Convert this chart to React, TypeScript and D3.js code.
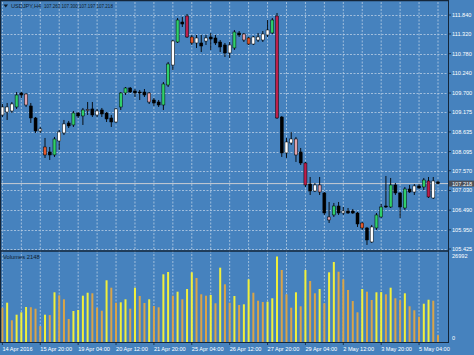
import React from 'react';
import * as d3 from 'd3';

// USDJPY H4 bars, 14 Apr 2016 .. 5 May 2016
const opens = [
  109.099, 109.181, 109.209, 109.318, 109.702, 109.674, 109.346, 109.017, 108.661, 108.222,
  108.085, 108.003, 108.387, 108.606, 108.880, 108.825, 109.154, 109.072, 109.250, 109.264,
  109.099, 109.236, 109.154, 109.017, 108.907, 109.318, 109.702, 109.839, 109.757, 109.729,
  109.729, 109.702, 109.510, 109.455, 109.373, 109.921, 110.469, 111.100, 111.648, 111.813,
  111.237, 111.073, 111.073, 111.127, 111.237, 111.210, 111.100, 111.018, 110.799, 110.936,
  111.347, 111.319, 111.210, 111.045, 111.155, 111.155, 111.292, 111.347, 111.813, 109.044,
  108.058, 108.332, 108.441, 108.085, 107.783, 107.207, 107.015, 107.180, 106.961, 106.303,
  106.358, 106.604, 106.412, 106.467, 106.467, 106.412, 106.138, 106.001, 105.618, 106.001,
  106.303, 106.604, 106.577, 107.180, 106.961, 106.549, 107.070, 106.988, 107.153, 107.125,
  107.290, 106.824, 107.263,
];
const highs = [
  109.400, 109.428, 109.455, 109.729, 109.729, 109.702, 109.428, 109.044, 108.770, 108.469,
  108.222, 108.496, 108.688, 108.962, 108.935, 109.209, 109.181, 109.291, 109.455, 109.455,
  109.264, 109.291, 109.181, 109.099, 109.291, 109.729, 109.866, 109.866, 109.811, 109.784,
  109.811, 109.729, 109.565, 109.510, 110.004, 110.552, 111.155, 111.758, 111.785, 111.867,
  111.292, 111.292, 111.292, 111.292, 111.347, 111.292, 111.155, 111.073, 111.100, 111.429,
  111.401, 111.347, 111.237, 111.264, 111.347, 111.401, 111.703, 111.758, 111.895, 109.072,
  108.469, 108.633, 108.496, 108.195, 107.811, 107.399, 107.235, 107.399, 106.988, 106.714,
  106.687, 106.714, 106.577, 106.549, 106.522, 106.440, 106.166, 106.029, 106.084, 106.412,
  106.659, 107.427, 107.372, 107.235, 106.988, 107.125, 107.180, 107.207, 107.207, 107.372,
  107.399, 107.399, 107.300,
];
const lows = [
  109.044, 108.962, 109.154, 109.264, 109.565, 109.318, 108.880, 108.606, 108.606, 107.921,
  107.866, 107.948, 108.140, 108.551, 108.743, 108.770, 109.017, 108.825, 109.099, 109.044,
  109.044, 109.044, 108.907, 108.770, 108.880, 109.236, 109.647, 109.702, 109.592, 109.510,
  109.592, 109.400, 109.346, 109.318, 109.236, 109.866, 110.332, 111.073, 111.511, 111.210,
  111.018, 110.936, 110.826, 111.018, 110.881, 111.018, 110.826, 110.689, 110.662, 110.881,
  111.237, 111.100, 111.018, 111.018, 111.100, 111.100, 111.237, 111.319, 108.990, 107.948,
  107.921, 108.277, 107.811, 107.728, 107.125, 106.906, 106.988, 106.906, 106.358, 106.138,
  106.303, 106.358, 106.358, 106.385, 106.385, 106.029, 105.947, 105.536, 105.591, 105.947,
  106.275, 106.549, 106.549, 106.906, 106.275, 106.495, 106.961, 106.906, 107.070, 107.043,
  106.824, 106.796, 107.197,
];
const closes = [
  109.318, 109.318, 109.400, 109.647, 109.647, 109.373, 109.017, 108.661, 108.716, 108.003,
  108.003, 108.441, 108.633, 108.853, 108.798, 109.154, 109.072, 109.236, 109.222, 109.099,
  109.209, 109.127, 108.990, 108.907, 109.264, 109.702, 109.839, 109.729, 109.702, 109.702,
  109.647, 109.455, 109.428, 109.373, 109.949, 110.497, 111.127, 111.703, 111.593, 111.237,
  111.073, 111.210, 110.990, 111.210, 111.182, 111.073, 110.963, 110.799, 111.018, 111.374,
  111.292, 111.155, 111.045, 111.237, 111.237, 111.319, 111.429, 111.703, 109.017, 108.058,
  108.359, 108.441, 108.003, 107.783, 107.180, 107.015, 107.180, 106.988, 106.412, 106.221,
  106.604, 106.412, 106.467, 106.412, 106.412, 106.111, 106.001, 105.673, 106.029, 106.358,
  106.577, 106.577, 107.180, 106.961, 106.577, 107.070, 106.988, 107.153, 107.098, 107.317,
  106.851, 107.290, 107.218,
];
// body colour class of each bar, as the indicator painted it
const barKinds = (
  'wwwgkpkkwo' + 'kgwwkgkgpk' + 'wkkkwggkkk' + 'kpkkggwgkr' + 'owkwkkkkwg' +
  'kpowwwwgrk' + 'wwpkrkwpkp' + 'gkwkkkokwg' + 'gkgkkgkwkg' + 'rwk'
).split('');
const volumes = [
  10830, 12410, 6850, 8620, 9380, 11050, 10980, 10510, 5050, 8620,
  8500, 15690, 14740, 13480, 7260, 9790, 10100, 14620, 15560, 15380,
  10830, 9880, 19480, 17140, 12410, 12530, 13480, 10510, 17140, 14520,
  12310, 13480, 11370, 10960, 21370, 22100, 14620, 15880, 13480, 16730,
  22000, 20200, 15060, 14620, 14840, 12220, 23460, 18220, 12410, 14520,
  11680, 11900, 19790, 15560, 13040, 12630, 12720, 13800, 26992, 22730,
  15060, 10830, 15690, 11270, 22730, 19260, 15380, 16730, 12220, 22000,
  25260, 22190, 19790, 16420, 12940, 9380, 16730, 15880, 13260, 15690,
  15750, 15060, 17140, 13800, 13170, 15380, 11270, 10010, 7990, 12090,
  13350, 13040, 2148,
];
const priceTicks = [
  111.840, 111.320, 110.780, 110.240, 109.700, 109.175, 108.635,
  108.095, 107.570, 107.030, 106.490, 105.950, 105.425,
];
const timeLabels = [
  '14 Apr 2016', '15 Apr 20:00', '19 Apr 04:00', '20 Apr 12:00', '21 Apr 20:00', '25 Apr 04:00',
  '26 Apr 12:00', '27 Apr 20:00', '29 Apr 04:00', '2 May 12:00', '3 May 20:00', '5 May 04:00',
];
const labelEvery = 8; // one time label every 8 bars
const gridEvery = 4;
const volMax = 26992;
const lastPrice = 107.218;

const kindColor: Record<string, string> = {
  g: '#2fcf6a',
  w: '#ffffff',
  k: '#000000',
  r: '#bd1f4c',
  p: '#e3a3ab',
  o: '#e2582a',
};

const BG = '#4682be';
const FRAME = '#14263a';
const GRID = '#d6e2ef';
const FONT = '"Liberation Sans", Arial, sans-serif';

export default function App() {
  const W = 474, H = 355;
  const plotRight = 448;
  const mainBottom = 251;
  const volBottom = 342;

  const x = d3.scaleLinear().domain([0, closes.length - 1]).range([2.4, 438]);
  const y = d3.scaleLinear().domain([105.425, 111.84]).range([249, 15]);
  const yv = d3.scaleLinear().domain([0, volMax]).range([volBottom, 256.5]);

  const gridBars = d3.range(0, closes.length, gridEvery);

  return (
    <svg width={W} height={H} style={{ position: 'absolute', left: 0, top: 0, display: 'block' }}
      fontFamily={FONT}>
      <rect width={W} height={H} fill={BG} />

      {/* grid */}
      <g stroke={GRID} strokeWidth={0.8} strokeDasharray="2,1.5" opacity={0.8}>
        {priceTicks.map(t => (
          <line key={'h' + t} x1={0} x2={plotRight} y1={Math.round(y(t)) + 0.5} y2={Math.round(y(t)) + 0.5} />
        ))}
        {gridBars.map(i => (
          <line key={'v' + i} x1={x(i)} x2={x(i)} y1={2} y2={volBottom} />
        ))}
      </g>

      {/* current bid line */}
      <line x1={0} x2={plotRight} y1={y(lastPrice)} y2={y(lastPrice)} stroke="#c9cdd2" strokeWidth={1} />

      {/* candles */}
      <g>
        {closes.map((c, i) => {
          const o = opens[i];
          const top = y(Math.max(o, c));
          const bot = y(Math.min(o, c));
          const cx = x(i);
          return (
            <g key={i}>
              <line x1={cx} x2={cx} y1={y(highs[i])} y2={y(lows[i])} stroke="#000" strokeWidth={0.9} />
              <rect x={cx - 1.5} y={top} width={3} height={Math.max(bot - top, 1)}
                fill={kindColor[barKinds[i]]} stroke="#000" strokeWidth={0.5} />
            </g>
          );
        })}
      </g>

      {/* volumes */}
      <g>
        {volumes.map((v, i) => {
          const up = i > 0 && v > volumes[i - 1];
          return (
            <rect key={i} x={x(i) - 1} y={yv(v)} width={2} height={volBottom - yv(v)}
              fill={up ? '#f2f03a' : '#d9a448'} />
          );
        })}
      </g>

      {/* frames */}
      <g stroke={FRAME} fill="none">
        <line x1={0} x2={plotRight} y1={0.5} y2={0.5} strokeWidth={1.5} />
        <line x1={0.5} x2={0.5} y1={0} y2={volBottom} strokeWidth={1.5} />
        <line x1={0} x2={plotRight} y1={mainBottom} y2={mainBottom} strokeWidth={1.6} />
        <line x1={0} x2={plotRight} y1={volBottom + 0.5} y2={volBottom + 0.5} strokeWidth={1} />
        <line x1={plotRight + 0.5} x2={plotRight + 0.5} y1={0} y2={volBottom + 1} strokeWidth={1} />
      </g>

      {/* price axis */}
      <g fontSize={5.6} fill="#ffffff">
        {priceTicks.map(t => (
          <g key={'p' + t}>
            <line x1={plotRight} x2={plotRight + 3} y1={y(t)} y2={y(t)} stroke={FRAME} strokeWidth={0.8} />
            <text x={452} y={y(t)} dy="0.35em">{t.toFixed(3)}</text>
          </g>
        ))}
      </g>
      <rect x={plotRight + 1} y={y(lastPrice) - 3} width={W - plotRight - 1} height={6} fill="#4b5058" />
      <text x={452} y={y(lastPrice)} dy="0.35em" fontSize={5.6} fill="#ffffff">{lastPrice.toFixed(3)}</text>

      {/* volume axis */}
      <g fontSize={5.6} fill="#ffffff">
        <text x={452} y={yv(volMax)} dy="0.35em">{volMax}</text>
        <text x={452} y={yv(0) - 2}>{0}</text>
      </g>

      {/* time axis */}
      <g fontSize={5.6} fill="#ffffff">
        {timeLabels.map((lab, k) => {
          const tx = x(k * labelEvery);
          return (
            <g key={lab}>
              <line x1={tx} x2={tx} y1={volBottom} y2={volBottom + 3} stroke={FRAME} strokeWidth={0.8} />
              <text x={tx} y={351}>{lab}</text>
            </g>
          );
        })}
      </g>

      {/* titles */}
      <path d="M3.5,4.5 L8,4.5 L5.75,7.5 Z" fill="#0f1c2b" />
      <text x={11} y={8} fontSize={5.6} fill="#0f1c2b">
        USDJPY,H4
        <tspan fontSize={4.5} dx={3}>{[opens, highs, lows, closes].map(a => a[a.length - 1].toFixed(3)).join(' ')}</tspan>
      </text>
      <text x={3} y={259} fontSize={5.8} fill="#0f1c2b">Volumes {volumes[volumes.length - 1]}</text>
    </svg>
  );
}
